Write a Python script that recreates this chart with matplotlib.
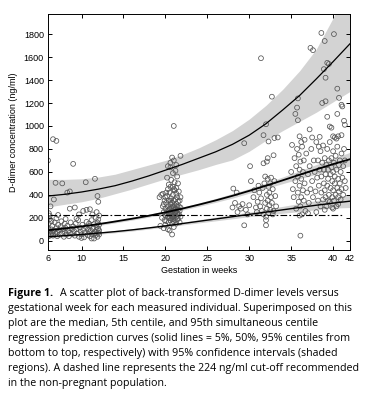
import matplotlib
matplotlib.use("Agg")
import matplotlib.pyplot as plt

# ---------------- data ----------------
curve_weeks = [6, 8, 10, 12, 14, 16, 18, 20, 22, 24, 26, 28, 30, 32, 34, 36, 38, 40, 42]
p5 = [35, 45, 55, 67, 80, 95, 112, 130, 150, 170, 190, 210, 230, 250, 270, 290, 310, 328, 345]
p5_lo = [25, 35, 45, 57, 70, 85, 102, 120, 138, 156, 174, 192, 210, 225, 240, 255, 270, 285, 290]
p5_hi = [45, 55, 65, 77, 90, 105, 122, 140, 162, 184, 206, 228, 250, 275, 300, 325, 350, 375, 400]
p50 = [92, 108, 125, 145, 168, 192, 218, 248, 280, 315, 352, 392, 435, 480, 527, 575, 622, 668, 710]
p50_lo = [78, 95, 113, 133, 156, 180, 206, 236, 267, 300, 335, 372, 415, 456, 498, 540, 580, 618, 650]
p50_hi = [106, 121, 137, 157, 180, 204, 230, 260, 293, 330, 369, 412, 455, 504, 556, 610, 664, 718, 770]
p95 = [390, 405, 425, 450, 480, 520, 565, 615, 665, 720, 775, 840, 920, 1020, 1140, 1265, 1410, 1560, 1715]
p95_lo = [295, 318, 340, 370, 410, 450, 495, 540, 580, 620, 665, 705, 780, 875, 960, 1040, 1120, 1210, 1300]
p95_hi = [535, 535, 540, 555, 580, 620, 660, 700, 750, 810, 880, 960, 1060, 1180, 1320, 1480, 1670, 1940, 2250]

cutoff = 224
cutoff_weeks = [6.2, 41.1]

obs_weeks = [
    # first trimester
    6.0, 6.6, 7.0, 9.0, 6.9, 7.7, 8.3, 8.6, 10.5, 11.6, 11.9, 12.0, 6.3, 6.7, 9.2, 8.6, 10.6, 11.0, 10.2, 11.8,
    12.1, 6.1, 6.2, 7.2, 9.7, 11.3,
    6.0, 6.0, 6.1, 6.1, 6.2, 6.2, 6.3, 6.4, 6.5, 6.5, 6.6, 6.7, 6.8, 6.9, 7.0, 7.1, 7.1, 7.2, 7.3, 7.4,
    7.5, 7.6, 7.7, 7.8, 7.9, 8.0, 8.0, 8.1, 8.2, 8.3, 8.4, 8.5, 8.6, 8.7, 8.8, 8.9, 9.0, 9.1, 9.2, 9.3,
    9.4, 9.5, 9.6, 9.7, 9.8, 9.9, 10.0, 10.1, 10.2, 10.3, 10.4, 10.5, 10.6, 10.7, 10.8, 10.9, 11.0, 11.0,
    11.1, 11.2, 11.3, 11.4, 11.5, 11.5, 11.6, 11.7, 11.7, 11.8, 11.8, 11.9, 11.9, 12.0, 12.0, 12.1, 12.1,
    12.0, 11.6, 10.9, 9.4, 8.1, 7.0, 6.4, 11.2, 10.0, 12.1,
    # around week 20
    21.0, 21.8, 20.8, 21.0, 20.6, 21.3, 20.3, 20.6, 21.2, 20.9, 21.4, 20.2, 20.7, 21.1, 21.5, 20.4, 20.9,
    21.3, 19.7, 19.5, 20.1, 21.6, 21.8, 19.3,
    20.8, 19.4, 19.8, 20.0, 20.3, 21.0, 21.3, 21.7, 20.5,
    19.6, 19.7, 19.8, 19.9, 19.9, 20.0, 20.0, 20.1, 20.1, 20.2, 20.2, 20.3, 20.3, 20.4, 20.4, 20.4, 20.5,
    20.5, 20.5, 20.6, 20.6, 20.6, 20.7, 20.7, 20.7, 20.8, 20.8, 20.8, 20.8, 20.9, 20.9, 20.9, 20.9, 21.0,
    21.0, 21.0, 21.0, 21.1, 21.1, 21.1, 21.1, 21.2, 21.2, 21.2, 21.2, 21.3, 21.3, 21.3, 21.4, 21.4, 21.4,
    21.5, 21.5, 21.5, 21.6, 21.6, 21.7, 21.7, 21.8, 21.8, 20.3, 20.6, 21.0, 20.0, 21.3, 19.8, 20.5, 20.9,
    21.2, 20.7, 20.4, 21.0, 20.6, 21.4, 20.2,
    # weeks 28-33
    31.4, 32.7, 32.0, 31.7, 33.0, 33.4, 29.4, 32.3, 30.1, 31.7, 32.2, 32.9, 32.1,
    28.1, 28.5, 28.3, 28.8, 28.0, 29.0, 29.2, 28.6, 29.4, 29.8, 30.2, 30.5, 30.8, 30.9, 31.0, 31.2, 31.3,
    31.4, 31.5, 31.6, 31.7, 31.8, 31.9, 32.0, 32.0, 32.0, 32.1, 32.1, 32.2, 32.2, 32.3, 32.3, 32.4, 32.4,
    32.5, 32.5, 32.6, 32.6, 32.7, 32.8, 32.9, 33.0, 33.1, 33.2, 31.1, 30.6, 31.9, 32.8, 29.6, 30.0,
    # weeks 35-41
    38.6, 40.1, 37.3, 37.6, 39.0, 39.3, 39.5, 38.9, 39.1, 40.5, 40.7, 41.0, 41.1, 35.8, 35.7, 35.5, 35.8,
    37.2, 38.7, 39.1, 39.3, 40.5, 41.3, 41.4, 39.8, 39.6, 35.1, 36.0, 36.2, 38.4, 40.2, 40.0, 41.0, 40.6,
    40.4, 36.1,
    35.0, 35.2, 35.3, 35.4, 35.5, 35.6, 35.6, 35.7, 35.8, 35.8, 35.9, 35.9, 36.0, 36.0, 36.1, 36.1, 36.2,
    36.2, 36.3, 36.3, 36.4, 36.4, 36.5, 36.5, 36.6, 36.7, 36.8, 36.9, 37.0, 37.1, 37.2, 37.3, 37.4, 37.5,
    37.6, 37.7, 37.8, 37.9, 38.0, 38.1, 38.2, 38.2, 38.3, 38.4, 38.5, 38.5, 38.6, 38.6, 38.7, 38.8, 38.8,
    38.9, 38.9, 39.0, 39.0, 39.1, 39.1, 39.2, 39.2, 39.3, 39.3, 39.4, 39.4, 39.5, 39.5, 39.6, 39.6, 39.7,
    39.7, 39.8, 39.8, 39.9, 39.9, 40.0, 40.0, 40.0, 40.1, 40.1, 40.2, 40.2, 40.3, 40.3, 40.4, 40.4, 40.5,
    40.5, 40.6, 40.6, 40.7, 40.7, 40.8, 40.8, 40.9, 40.9, 41.0, 41.0, 41.1, 41.2, 41.2, 41.3, 41.4, 41.4,
    41.5, 38.0, 39.0, 40.0, 36.0, 37.0, 39.4, 40.6, 39.9, 38.3, 37.5, 36.6,
]

obs_ddimer = [
    # first trimester
    700, 885, 870, 670, 505, 500, 420, 430, 510, 540, 390, 340, 300, 360, 290, 280, 270, 275, 260, 250,
    220, 240, 220, 225, 230, 230,
    60, 110, 40, 150, 80, 190, 55, 100, 70, 130, 45, 90, 160, 60, 110, 40, 75, 140, 95, 55,
    120, 170, 65, 100, 35, 80, 150, 110, 55, 130, 90, 40, 70, 160, 105, 60, 125, 85, 45, 150,
    100, 65, 180, 35, 115, 80, 55, 140, 95, 30, 70, 120, 165, 50, 100, 75, 130, 40,
    90, 180, 60, 110, 20, 145, 80, 200, 50, 120, 95, 160, 35, 70, 105, 140, 55,
    185, 65, 150, 195, 190, 195, 170, 20, 25, 90,
    # around week 20
    1000, 740, 725, 700, 680, 660, 650, 640, 610, 590, 560, 550, 530, 510, 500, 490, 470,
    460, 410, 400, 420, 430, 380, 380,
    55, 130, 110, 140, 100, 120, 150, 160, 90,
    200, 300, 250, 350, 180, 280, 220, 330, 170, 260, 390, 210, 300, 240, 350, 160, 280,
    200, 420, 250, 320, 180, 230, 290, 370, 210, 260, 330, 150, 240, 300, 190, 400, 220,
    270, 350, 170, 250, 310, 200, 440, 230, 280, 360, 180, 260, 320, 210, 240, 300, 380,
    270, 190, 340, 230, 300, 260, 350, 210, 290, 450, 470, 450, 380, 410, 320, 240, 210,
    250, 195, 270, 290, 350, 190, 230,
    # weeks 28-33
    1590, 1255, 1015, 920, 895, 900, 850, 865, 650, 675, 720, 745, 690,
    455, 420, 330, 300, 290, 280, 320, 250, 135, 230, 520, 380, 290, 250, 340, 420, 300,
    370, 260, 460, 230, 500, 330, 180, 135, 210, 400, 280, 540, 350, 470, 240, 310, 420,
    500, 270, 380, 550, 330, 450, 260, 520, 390, 300, 480, 440, 560, 230, 270, 310,
    # weeks 35-41
    1810, 1800, 1680, 1660, 1740, 1550, 1540, 1495, 1420, 1325, 1245, 1185, 1170, 1240, 1160, 1105, 1050,
    970, 1200, 1215, 1080, 1105, 1045, 1010, 985, 995, 835, 910, 860, 905, 900, 910, 920, 910,
    890, 45,
    600, 450, 380, 720, 520, 280, 650, 800, 420, 560, 340, 750, 480, 620, 300, 690, 380,
    540, 230, 820, 440, 600, 350, 700, 500, 260, 760, 420, 580, 330, 650, 450, 800, 520,
    380, 700, 600, 430, 860, 550, 350, 700, 480, 620, 300, 780, 420, 560, 680, 360, 830,
    500, 620, 440, 720, 380, 580, 660, 300, 800, 480, 540, 620, 400, 700, 340, 860, 460,
    580, 640, 720, 380, 520, 600, 440, 780, 350, 680, 500, 560, 400, 740, 620, 300, 460,
    820, 540, 380, 660, 430, 700, 500, 360, 600, 760, 450, 550, 650, 400, 800, 520, 700,
    460, 250, 270, 280, 220, 240, 350, 320, 290, 820, 900, 880,
]

x_ticks = [6, 10, 15, 20, 25, 30, 35, 40, 42]
y_ticks = [0, 200, 400, 600, 800, 1000, 1200, 1400, 1600, 1800]

caption_bold = "Figure 1."
caption_lines = [
    "A scatter plot of back-transformed D-dimer levels versus",
    "gestational week for each measured individual. Superimposed on this",
    "plot are the median, 5th centile, and 95th simultaneous centile",
    "regression prediction curves (solid lines = 5%, 50%, 95% centiles from",
    "bottom to top, respectively) with 95% confidence intervals (shaded",
    "regions). A dashed line represents the 224 ng/ml cut-off recommended",
    "in the non-pregnant population.",
]

# ---------------- figure ----------------
fig = plt.figure(figsize=(3.75, 4.0), dpi=100)
ax = fig.add_axes([0.128, 0.375, 0.805, 0.59])

axfont = "Liberation Sans"
band_color = "#d3d3d3"
for lo, hi in [(p95_lo, p95_hi), (p50_lo, p50_hi), (p5_lo, p5_hi)]:
    ax.fill_between(curve_weeks, lo, hi, color=band_color, lw=0, zorder=1)

ax.scatter(obs_weeks, obs_ddimer, s=12, facecolors="none", edgecolors="#555555",
           linewidths=0.55, zorder=2)

for c, w in ((p5, 1.0), (p50, 1.3), (p95, 0.9)):
    ax.plot(curve_weeks, c, color="black", lw=w, zorder=3, solid_joinstyle="round")

ax.plot(cutoff_weeks, [cutoff, cutoff], color="black", lw=0.8,
        linestyle=(0, (6, 2, 1.5, 2)), zorder=3)

ax.set_xlim(6, 42)
ax.set_ylim(-80, 1975)
ax.set_xticks(x_ticks)
ax.set_yticks(y_ticks)
ax.tick_params(direction="in", length=3, width=0.7, top=True, right=True,
               labelsize=6.5, pad=3)
for lab in ax.get_xticklabels() + ax.get_yticklabels():
    lab.set_fontfamily(axfont)
for sp in ax.spines.values():
    sp.set_linewidth(0.7)

ax.set_xlabel("Gestation in weeks", fontsize=6.5, family=axfont, labelpad=2)
ax.set_ylabel("D-dimer concentration (ng/ml)", fontsize=6.5, family=axfont, labelpad=4)

capfont = "Open Sans"
capsize = 7.65
y0 = 1 - 293.5 / 400
dy = 15 / 400
fig.text(8 / 375, y0, caption_bold, fontsize=capsize, fontweight="bold", family=capfont,
         va="center", ha="left")
fig.text(60 / 375, y0, caption_lines[0], fontsize=capsize, family=capfont, va="center", ha="left")
for i, line in enumerate(caption_lines[1:], start=1):
    fig.text(8 / 375, y0 - i * dy, line, fontsize=capsize, family=capfont, va="center", ha="left")

fig.savefig("out.png", dpi=100)
